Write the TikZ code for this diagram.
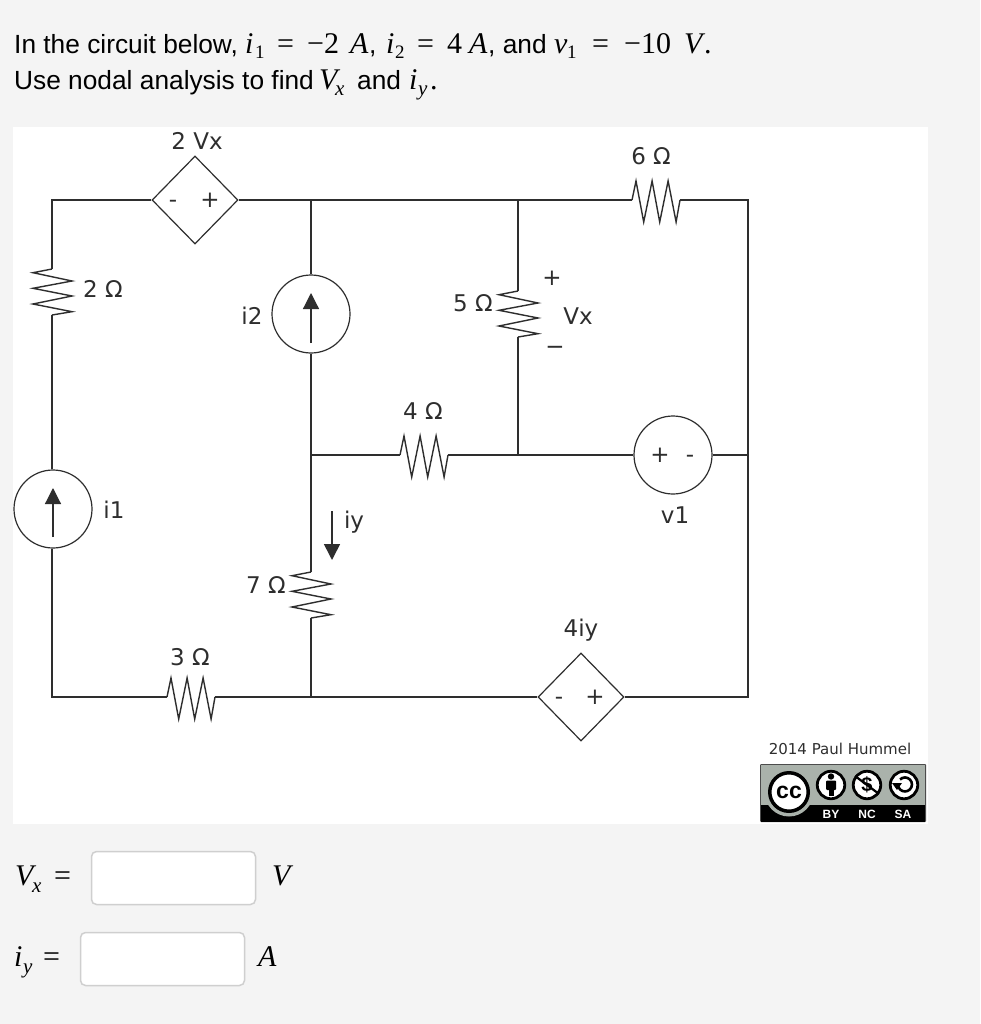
\documentclass[tikz,border=0pt]{standalone}
\usepackage{fontspec}
\setmainfont{Liberation Sans}
\newfontfamily\djv{DejaVu Sans}
\newfontfamily\tms{Liberation Serif}
\usetikzlibrary{shapes.geometric,arrows.meta}
\definecolor{pagebg}{HTML}{F4F4F4}
\definecolor{ink}{HTML}{2E2E2E}
\definecolor{ccgray}{HTML}{AAB2AB}
\definecolor{boxline}{HTML}{CFCFCF}
\newcommand\VRes[3]{%
  \coordinate (#1-a) at (#2,#3);
  \coordinate (#1-b) at (#2,#3+46);
  \draw[wire,line join=miter] (#1-a) -- ++(-19,3.7) -- ++(39,8.3) -- ++(-39,7.3) -- ++(39,7.7) -- ++(-39,8) -- ++(39,7.7) -- (#1-b);
}
\newcommand\HRes[3]{%
  \coordinate (#1-a) at (#2,#3);
  \coordinate (#1-b) at (#2+48,#3);
  \draw[wire,line join=miter] (#1-a) -- ++(4,-19) -- ++(7.7,41) -- ++(8.4,-41) -- ++(7.6,41) -- ++(8.4,-41) -- ++(8,41) -- (#1-b);
}
\tikzset{
  x=1pt,y=-1pt,
  wire/.style={draw=ink,line width=1.4pt},
  thinwire/.style={draw=ink,line width=1.2pt},
  depsrc/.style={shape=diamond,draw=ink,line width=1.2pt,fill=white,minimum width=86pt,minimum height=88pt,inner sep=0pt,aspect=1},
  indsrc/.style={circle,draw=ink,line width=1.2pt,fill=white,minimum size=78pt,inner sep=0pt},
  lab/.style={inner sep=0pt,text=ink,font=\djv\fontsize{23}{23}\selectfont},
  sym/.style={inner sep=0pt,text=ink,font=\djv\fontsize{23}{23}\selectfont},
  title/.style={inner sep=0pt,anchor=base west,text=black,font=\fontsize{26.3}{26.3}\selectfont},
  mi/.style={inner sep=0pt,anchor=base west,text=black,font=\tms\itshape\fontsize{30}{30}\selectfont},
  mr/.style={inner sep=0pt,anchor=base west,text=black,font=\tms\fontsize{30}{30}\selectfont},
  msub/.style={inner sep=0pt,anchor=base west,text=black,font=\tms\fontsize{19}{19}\selectfont},
  msubi/.style={inner sep=0pt,anchor=base west,text=black,font=\tms\itshape\fontsize{21}{21}\selectfont},
  ansbox/.style={draw=boxline,line width=1.5pt,fill=white,rounded corners=5pt,minimum width=164pt,minimum height=53pt,inner sep=0pt},
  ccring/.style={circle,draw=black,line width=2.8pt,fill=white,minimum size=27.5pt,inner sep=0pt},
  cctext/.style={inner sep=0pt,text=white,font=\bfseries\fontsize{12}{12}\selectfont},
}
\begin{document}
\begin{tikzpicture}
\useasboundingbox (0,0) rectangle (980,1024);
\fill[pagebg] (0,0) rectangle (980,1024);
\fill[white] (13,127) rectangle (928,824);
% title
\node[title] (t1) at (14,53.5) {In the circuit below,};
\node[mi] (m1) at (245,53.5) {i};
\node[msub] (m2) at (255,58.5) {1};
\node[mr] (m3) at (277,53.5) {=};
\node[mr] (m4) at (307,53.5) {−2};
\node[mi] (m5) at (350,53.5) {A};
\node[title] (m6) at (369,53.5) {,};
\node[mi] (m7) at (386,53.5) {i};
\node[msub] (m8) at (395,58.5) {2};
\node[mr] (m9) at (417,53.5) {=};
\node[mr] (m10) at (447,53.5) {4};
\node[mi] (m11) at (469,53.5) {A};
\node[title] (m12) at (488,53.5) {, and};
\node[mi] (m13) at (554,53.5) {v};
\node[msub] (m14) at (567,58.5) {1};
\node[mr] (m15) at (592,53.5) {=};
\node[mr] (m16) at (624,53.5) {−10};
\node[mi] (m17) at (684,53.5) {V};
\node[mr] (m18) at (704,53.5) {.};
\node[title] (t2) at (14,90) {Use nodal analysis to find};
\node[mi] (n1) at (319,90) {V\kern-2.3pt\lower6pt\hbox{\fontsize{21}{21}\selectfont x}};
\node[title] (n3) at (357,90) {and};
\node[mi] (n4) at (409,90) {i};
\node[msubi] (n5) at (418,96) {y};
\node[mr] (n6) at (430,90) {.};
% junctions
\coordinate (tl) at (52,200);
\coordinate (bl) at (52,697);
\coordinate (tr) at (748,200);
\coordinate (br) at (748,697);
\coordinate (jt1) at (311,200);
\coordinate (jt2) at (518,200);
\coordinate (jm1) at (311,455);
\coordinate (jm2) at (518,455);
\coordinate (jm3) at (748,455);
\coordinate (jb1) at (311,697);
% sources
\node[depsrc] (d1) at (195,200) {};
\node[depsrc] (d2) at (581,697) {};
\node[indsrc] (i1) at (53,509) {};
\node[indsrc] (i2) at (311,314) {};
\node[indsrc] (v1) at (673,455) {};
% resistors
\VRes{r2}{52}{269}
\VRes{r5}{518}{291}
\VRes{r7}{311}{572}
\HRes{r6}{632}{200}
\HRes{r4}{400}{455}
\HRes{r3}{167}{697}
% wires
\draw[wire] (d1.west) -- (tl) -- (r2-a);
\draw[wire] (r2-b) -- (i1.north -| r2-b);
\draw[wire] (i1.south -| bl) -- (bl) -- (r3-a);
\draw[wire] (r3-b) -- (d2.west);
\draw[wire] (d2.east) -- (br) -- (tr) -- (r6-b);
\draw[wire] (r6-a) -- (d1.east);
\draw[wire] (jt1) -- (i2.north);
\draw[wire] (i2.south) -- (jm1) -- (r7-a);
\draw[wire] (r7-b) -- (jb1);
\draw[wire] (jt2) -- (r5-a);
\draw[wire] (r5-b) -- (jm2);
\draw[wire] (jm1) -- (r4-a);
\draw[wire] (r4-b) -- (v1.west);
\draw[wire] (v1.east) -- (jm3);
% arrows in sources
\coordinate (a1s) at (53,537);
\coordinate (a1e) at (53,488);
\coordinate (a2s) at (311,343);
\coordinate (a2e) at (311,293);
\coordinate (ays) at (332,511);
\coordinate (aye) at (332,560);
\draw[thinwire,-{Triangle[length=16pt,width=16pt]}] (a1s) -- (a1e);
\draw[thinwire,-{Triangle[length=16pt,width=16pt]}] (a2s) -- (a2e);
\draw[thinwire,-{Triangle[length=16pt,width=16pt]},line width=1.6pt] (ays) -- (aye);
% labels
\node[lab] (l1) at (197,141) {2 Vx};
\node[lab] (l2) at (651,156) {6 Ω};
\node[lab] (l3) at (103,289) {2 Ω};
\node[lab] (l4) at (252,316) {i2};
\node[lab] (l5) at (473,303) {5 Ω};
\node[sym] (l6) at (552,278) {+};
\node[lab] (l7) at (578,316) {Vx};
\node[sym] (l8) at (555,350) {−};
\node[lab] (l9) at (423,411) {4 Ω};
\node[sym] (l10) at (660,455) {+};
\node[sym] (l11) at (690,459) {-};
\node[lab] (l12) at (675,515) {v1};
\node[lab] (l13) at (114,510) {i1};
\node[lab] (l14) at (354,522) {iy};
\node[lab] (l15) at (266,585) {7 Ω};
\node[lab] (l16) at (190,657) {3 Ω};
\node[lab] (l17) at (581,630) {4iy};
\node[sym] (l18) at (173,204) {-};
\node[sym] (l19) at (210,200) {+};
\node[sym] (l20) at (559,701) {-};
\node[sym] (l21) at (595,697) {+};
\node[inner sep=0pt,text=ink,font=\djv\fontsize{15}{15}\selectfont] (cr) at (840,749) {2014 Paul Hummel};
% cc badge
\fill[black!70,rounded corners=1pt] (760,764) rectangle (926,822);
\fill[ccgray] (761,765) rectangle (925,806);
\fill[black] (761,805) rectangle (925,821);
\fill[ccgray] (789,792) circle (24.5);
\fill[black] (761,821) rectangle (925,822);
\node[circle,draw=black,line width=3.5pt,fill=white,minimum size=38.5pt,inner sep=0pt,font=\bfseries\fontsize{23}{23}\selectfont] (cc) at (789,792) {cc};
\node[ccring] (by) at (831,785) {};
\node[ccring] (nc) at (867,785) {};
\node[ccring] (sa) at (904,785) {};
\fill[black] (831,776.5) circle (3.2);
\fill[black,rounded corners=1pt] (826,780.5) rectangle (836,790);
\fill[black] (828.5,788) rectangle (833.5,796);
\node[inner sep=0pt,font=\bfseries\fontsize{20}{20}\selectfont] (dollar) at (867,785) {\$};
\draw[black,line width=2.2pt] (855,776) -- (879,794);
\draw[black,line width=2.6pt] (900,779.5) arc[start angle=-135,end angle=180,radius=7];
\fill[black] (892,783) -- (902,783) -- (897,790) -- cycle;
\node[cctext] (by-t) at (831,814) {BY};
\node[cctext] (nc-t) at (867,814) {NC};
\node[cctext] (sa-t) at (903,814) {SA};
% answers
\node[ansbox] (b1) at (173.5,878) {};
\node[ansbox] (b2) at (162.5,959) {};
\node[mi] (a1) at (15,885) {V};
\node[msubi] (a2) at (32,892) {x};
\node[mr] (a3) at (54,885) {=};
\node[mi] (a4) at (272,885) {V};
\node[mi] (c1) at (14,966) {i};
\node[msubi] (c2) at (23,973) {y};
\node[mr] (c3) at (43,966) {=};
\node[mi] (c4) at (258,966) {A};
\end{tikzpicture}
\end{document}
